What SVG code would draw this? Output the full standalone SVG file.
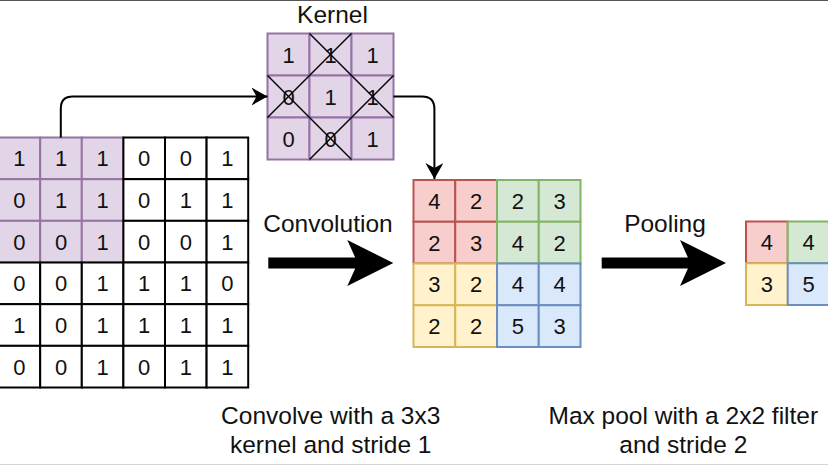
<svg xmlns="http://www.w3.org/2000/svg" width="828" height="466" viewBox="0 0 828 466">
<style>
  text { font-family: "Liberation Sans", Arial, Helvetica, sans-serif; fill: #111; }
  .d { font-size: 22px; text-anchor: middle; }
  .lbl { font-size: 24.5px; text-anchor: middle; }
  .pu { fill: #e1d5e7; stroke: #9673a6; stroke-width: 2; }
  .wh { fill: #ffffff; stroke: #000000; stroke-width: 2; }
  .rd { fill: #f8cecc; stroke: #b85450; stroke-width: 2; }
  .gr { fill: #d5e8d4; stroke: #82b366; stroke-width: 2; }
  .ye { fill: #fff2cc; stroke: #d6b656; stroke-width: 2; }
  .bl { fill: #dae8fc; stroke: #6c8ebf; stroke-width: 2; }
  .x { stroke: #000; stroke-width: 1.5; fill: none; }
  .conn { fill: none; stroke: #000; stroke-width: 2; }
</style>
<defs>
  <marker id="arr" viewBox="0 0 16 18" refX="16" refY="9" markerWidth="16" markerHeight="18" markerUnits="userSpaceOnUse" orient="auto">
    <path d="M0,0 L16,9 L0,18 L5,9 Z" fill="#000"/>
  </marker>
</defs>
<rect x="0" y="0" width="828" height="466" fill="#ffffff"/>
<line x1="0" y1="0.5" x2="828" y2="0.5" stroke="#555" stroke-width="1"/>
<line x1="0" y1="464.5" x2="828" y2="464.5" stroke="#d4d4d4" stroke-width="1"/>

<g id="input-grid">
  <rect class="pu" x="-1.4" y="137.5" width="41.6" height="41.67"/>
  <rect class="pu" x="40.2" y="137.5" width="41.6" height="41.67"/>
  <rect class="pu" x="81.8" y="137.5" width="41.6" height="41.67"/>
  <rect class="pu" x="-1.4" y="179.17" width="41.6" height="41.67"/>
  <rect class="pu" x="40.2" y="179.17" width="41.6" height="41.67"/>
  <rect class="pu" x="81.8" y="179.17" width="41.6" height="41.67"/>
  <rect class="pu" x="-1.4" y="220.83" width="41.6" height="41.67"/>
  <rect class="pu" x="40.2" y="220.83" width="41.6" height="41.67"/>
  <rect class="pu" x="81.8" y="220.83" width="41.6" height="41.67"/>
  <rect class="wh" x="123.4" y="137.5" width="41.6" height="41.67"/>
  <rect class="wh" x="165" y="137.5" width="41.6" height="41.67"/>
  <rect class="wh" x="206.6" y="137.5" width="41.6" height="41.67"/>
  <rect class="wh" x="123.4" y="179.17" width="41.6" height="41.67"/>
  <rect class="wh" x="165" y="179.17" width="41.6" height="41.67"/>
  <rect class="wh" x="206.6" y="179.17" width="41.6" height="41.67"/>
  <rect class="wh" x="123.4" y="220.83" width="41.6" height="41.67"/>
  <rect class="wh" x="165" y="220.83" width="41.6" height="41.67"/>
  <rect class="wh" x="206.6" y="220.83" width="41.6" height="41.67"/>
  <rect class="wh" x="-1.4" y="262.5" width="41.6" height="41.67"/>
  <rect class="wh" x="40.2" y="262.5" width="41.6" height="41.67"/>
  <rect class="wh" x="81.8" y="262.5" width="41.6" height="41.67"/>
  <rect class="wh" x="123.4" y="262.5" width="41.6" height="41.67"/>
  <rect class="wh" x="165" y="262.5" width="41.6" height="41.67"/>
  <rect class="wh" x="206.6" y="262.5" width="41.6" height="41.67"/>
  <rect class="wh" x="-1.4" y="304.17" width="41.6" height="41.67"/>
  <rect class="wh" x="40.2" y="304.17" width="41.6" height="41.67"/>
  <rect class="wh" x="81.8" y="304.17" width="41.6" height="41.67"/>
  <rect class="wh" x="123.4" y="304.17" width="41.6" height="41.67"/>
  <rect class="wh" x="165" y="304.17" width="41.6" height="41.67"/>
  <rect class="wh" x="206.6" y="304.17" width="41.6" height="41.67"/>
  <rect class="wh" x="-1.4" y="345.83" width="41.6" height="41.67"/>
  <rect class="wh" x="40.2" y="345.83" width="41.6" height="41.67"/>
  <rect class="wh" x="81.8" y="345.83" width="41.6" height="41.67"/>
  <rect class="wh" x="123.4" y="345.83" width="41.6" height="41.67"/>
  <rect class="wh" x="165" y="345.83" width="41.6" height="41.67"/>
  <rect class="wh" x="206.6" y="345.83" width="41.6" height="41.67"/>
  <text class="d" x="19.4" y="166.3">1</text><text class="d" x="61" y="166.3">1</text><text class="d" x="102.6" y="166.3">1</text><text class="d" x="144.2" y="166.3">0</text><text class="d" x="185.8" y="166.3">0</text><text class="d" x="227.4" y="166.3">1</text>
  <text class="d" x="19.4" y="208">0</text><text class="d" x="61" y="208">1</text><text class="d" x="102.6" y="208">1</text><text class="d" x="144.2" y="208">0</text><text class="d" x="185.8" y="208">1</text><text class="d" x="227.4" y="208">1</text>
  <text class="d" x="19.4" y="249.7">0</text><text class="d" x="61" y="249.7">0</text><text class="d" x="102.6" y="249.7">1</text><text class="d" x="144.2" y="249.7">0</text><text class="d" x="185.8" y="249.7">0</text><text class="d" x="227.4" y="249.7">1</text>
  <text class="d" x="19.4" y="291.3">0</text><text class="d" x="61" y="291.3">0</text><text class="d" x="102.6" y="291.3">1</text><text class="d" x="144.2" y="291.3">1</text><text class="d" x="185.8" y="291.3">1</text><text class="d" x="227.4" y="291.3">0</text>
  <text class="d" x="19.4" y="333">1</text><text class="d" x="61" y="333">0</text><text class="d" x="102.6" y="333">1</text><text class="d" x="144.2" y="333">1</text><text class="d" x="185.8" y="333">1</text><text class="d" x="227.4" y="333">1</text>
  <text class="d" x="19.4" y="374.7">0</text><text class="d" x="61" y="374.7">0</text><text class="d" x="102.6" y="374.7">1</text><text class="d" x="144.2" y="374.7">0</text><text class="d" x="185.8" y="374.7">1</text><text class="d" x="227.4" y="374.7">1</text>
</g>

<g id="kernel">
  <text class="lbl" x="332.5" y="22.5">Kernel</text>
  <rect class="pu" x="267.5" y="33.5" width="42" height="42"/>
  <rect class="pu" x="309.5" y="33.5" width="42" height="42"/>
  <rect class="pu" x="351.5" y="33.5" width="42" height="42"/>
  <rect class="pu" x="267.5" y="75.5" width="42" height="42"/>
  <rect class="pu" x="309.5" y="75.5" width="42" height="42"/>
  <rect class="pu" x="351.5" y="75.5" width="42" height="42"/>
  <rect class="pu" x="267.5" y="117.5" width="42" height="42"/>
  <rect class="pu" x="309.5" y="117.5" width="42" height="42"/>
  <rect class="pu" x="351.5" y="117.5" width="42" height="42"/>
  <text class="d" x="288.5" y="62.5">1</text><text class="d" x="330.5" y="62.5">1</text><text class="d" x="372.5" y="62.5">1</text>
  <text class="d" x="288.5" y="104.5">0</text><text class="d" x="330.5" y="104.5">1</text><text class="d" x="372.5" y="104.5">1</text>
  <text class="d" x="288.5" y="146.5">0</text><text class="d" x="330.5" y="146.5">0</text><text class="d" x="372.5" y="146.5">1</text>
  <line class="x" x1="309.5" y1="33.5" x2="393.5" y2="117.5"/>
  <line class="x" x1="351.5" y1="33.5" x2="267.5" y2="117.5"/>
  <line class="x" x1="267.5" y1="75.5" x2="351.5" y2="159.5"/>
  <line class="x" x1="393.5" y1="75.5" x2="309.5" y2="159.5"/>
</g>

<g id="feature-map">
  <rect class="rd" x="413.5" y="180" width="41.75" height="41.75"/>
  <rect class="rd" x="455.25" y="180" width="41.75" height="41.75"/>
  <rect class="rd" x="413.5" y="221.75" width="41.75" height="41.75"/>
  <rect class="rd" x="455.25" y="221.75" width="41.75" height="41.75"/>
  <rect class="gr" x="497" y="180" width="41.75" height="41.75"/>
  <rect class="gr" x="538.75" y="180" width="41.75" height="41.75"/>
  <rect class="gr" x="497" y="221.75" width="41.75" height="41.75"/>
  <rect class="gr" x="538.75" y="221.75" width="41.75" height="41.75"/>
  <rect class="ye" x="413.5" y="263.5" width="41.75" height="41.75"/>
  <rect class="ye" x="455.25" y="263.5" width="41.75" height="41.75"/>
  <rect class="ye" x="413.5" y="305.25" width="41.75" height="41.75"/>
  <rect class="ye" x="455.25" y="305.25" width="41.75" height="41.75"/>
  <rect class="bl" x="497" y="263.5" width="41.75" height="41.75"/>
  <rect class="bl" x="538.75" y="263.5" width="41.75" height="41.75"/>
  <rect class="bl" x="497" y="305.25" width="41.75" height="41.75"/>
  <rect class="bl" x="538.75" y="305.25" width="41.75" height="41.75"/>
  <text class="d" x="434.4" y="208.9">4</text><text class="d" x="476.1" y="208.9">2</text><text class="d" x="517.9" y="208.9">2</text><text class="d" x="559.6" y="208.9">3</text>
  <text class="d" x="434.4" y="250.6">2</text><text class="d" x="476.1" y="250.6">3</text><text class="d" x="517.9" y="250.6">4</text><text class="d" x="559.6" y="250.6">2</text>
  <text class="d" x="434.4" y="292.4">3</text><text class="d" x="476.1" y="292.4">2</text><text class="d" x="517.9" y="292.4">4</text><text class="d" x="559.6" y="292.4">4</text>
  <text class="d" x="434.4" y="334.1">2</text><text class="d" x="476.1" y="334.1">2</text><text class="d" x="517.9" y="334.1">5</text><text class="d" x="559.6" y="334.1">3</text>
</g>

<g id="pooled-map">
  <rect class="rd" x="746" y="221.5" width="41.75" height="41.75"/>
  <rect class="gr" x="787.75" y="221.5" width="41.75" height="41.75"/>
  <rect class="ye" x="746" y="263.25" width="41.75" height="41.75"/>
  <rect class="bl" x="787.75" y="263.25" width="41.75" height="41.75"/>
  <text class="d" x="766.9" y="250.4">4</text><text class="d" x="808.6" y="250.4">4</text>
  <text class="d" x="766.9" y="292.1">3</text><text class="d" x="808.6" y="292.1">5</text>
</g>

<g id="convolution-step">
  <text class="lbl" x="328" y="231.5">Convolution</text>
  <polygon points="268.3,257.5 355.2,257.5 347.3,240 393.3,263 347.3,286 355.2,268.5 268.3,268.5" fill="#000"/>
  <text class="lbl" x="330.7" y="424.3">Convolve with a 3x3</text>
  <text class="lbl" x="330.7" y="453.3">kernel and stride 1</text>
</g>

<g id="pooling-step">
  <text class="lbl" x="665" y="231.5">Pooling</text>
  <polygon points="601.7,257.5 687.9,257.5 680,240 726,263 680,286 687.9,268.5 601.7,268.5" fill="#000"/>
  <text class="lbl" x="683.3" y="424.3">Max pool with a 2x2 filter</text>
  <text class="lbl" x="683.3" y="453.3">and stride 2</text>
</g>

<g id="connectors">
  <path class="conn" d="M60.8,137.5 V108.5 Q60.8,96.5 72.8,96.5 H267.5" marker-end="url(#arr)"/>
  <path class="conn" d="M393.5,96.5 H422 Q434.4,96.5 434.4,108.9 V179" marker-end="url(#arr)"/>
</g>
</svg>
